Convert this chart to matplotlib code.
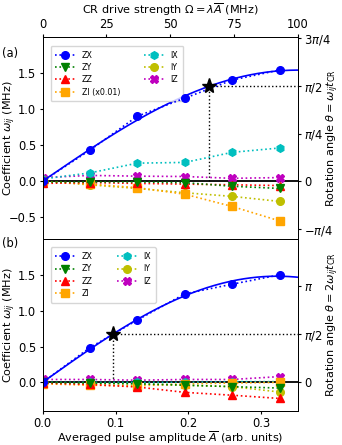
import numpy as np
import matplotlib
matplotlib.use("Agg")
import matplotlib.pyplot as plt

# averaged pulse amplitude (arb. units)
amp = [0.0, 0.065, 0.13, 0.195, 0.26, 0.325]

# panel (a) coefficients (MHz)
a_ZX = [0.0, 0.43, 0.90, 1.15, 1.40, 1.54]
a_ZY = [-0.01, -0.01, -0.01, -0.02, -0.07, -0.10]
a_ZZ = [-0.03, -0.02, -0.03, -0.04, -0.05, -0.06]
a_ZI = [0.0, -0.04, -0.09, -0.18, -0.35, -0.55]   # already x0.01
a_IX = [0.03, 0.115, 0.25, 0.26, 0.40, 0.46]
a_IY = [0.0, -0.05, -0.10, -0.16, -0.21, -0.28]
a_IZ = [0.05, 0.08, 0.07, 0.065, 0.04, 0.05]

# panel (b) coefficients (MHz)
b_ZX = [0.0, 0.485, 0.87, 1.235, 1.37, 1.50]
b_ZY = [0.0, -0.01, -0.02, -0.04, -0.06, -0.08]
b_ZZ = [-0.01, -0.03, -0.065, -0.14, -0.18, -0.225]
b_ZI = [-0.02, -0.04, -0.05, -0.02, -0.01, 0.0]
b_IX = [0.0, 0.0, 0.0, 0.0, 0.01, 0.01]
b_IY = [-0.01, -0.02, -0.02, -0.04, -0.06, -0.135]
b_IZ = [0.04, 0.04, 0.03, 0.04, 0.04, 0.08]

# pi/2 points (amplitude, coefficient)
star_a = (0.228, 1.32)
star_b = (0.097, 0.672)

names_a = ["ZX", "ZY", "ZZ", "ZI (x0.01)", "IX", "IY", "IZ"]
names_b = ["ZX", "ZY", "ZZ", "ZI", "IX", "IY", "IZ"]
colors = ["b", "g", "r", "orange", "c", "y", "m"]
markers = ["o", "v", "^", "s", "h", "o", "X"]

xmax = 0.35
lam = 100 / xmax

plt.rcParams["font.size"] = 8.3
plt.rcParams["axes.labelsize"] = 8.1
plt.rcParams["xtick.major.size"] = 2.5
plt.rcParams["ytick.major.size"] = 2.5
plt.rcParams["xtick.major.pad"] = 1.5
plt.rcParams["ytick.major.pad"] = 2
plt.rcParams["axes.linewidth"] = 0.7

fig = plt.figure(figsize=(3.42, 4.45), dpi=100)
ax_a = fig.add_axes([0.1243, 0.4629, 0.747, 0.4546])
ax_b = fig.add_axes([0.1243, 0.0764, 0.747, 0.3865])


def sine_fit(x, y):
    # least squares a*sin(b*x), scan over b
    x = np.asarray(x)
    y = np.asarray(y)
    best = None
    for b in np.linspace(1, 8, 701):
        s = np.sin(b * x)
        a = np.dot(s, y) / np.dot(s, s)
        err = np.sum((a * s - y) ** 2)
        if best is None or err < best[0]:
            best = (err, a, b)
    return best[1], best[2]


def draw(ax, series, names, star, ylim, k, rticks, rlabels, rlabel, top_frac):
    xf = np.linspace(0, xmax, 200)
    fa, fb = sine_fit(amp, series[0])
    ax.plot(xf, fa * np.sin(fb * xf), "-", color="b", lw=1.2, zorder=5)
    for i in range(len(series) - 1, -1, -1):
        ax.plot(amp, series[i], ":", color=colors[i], marker=markers[i],
                ms=5.5, lw=1.2, label=names[i], zorder=4 if i else 6)
    ax.axhline(0, color="k", lw=1.3, zorder=3)
    ax.plot([star[0], star[0]], [0, star[1]], "k:", lw=1)
    ax.plot([star[0], xmax], [star[1], star[1]], "k:", lw=1)
    ax.plot(star[0], star[1], "k*", ms=11, zorder=8)
    ax.set_xlim(0, xmax)
    ax.set_ylim(*ylim)
    ax.set_ylabel(r"Coefficient $\omega_{ij}$ (MHz)")
    ax.yaxis.set_label_coords(-0.097, 0.5)
    h, l = ax.get_legend_handles_labels()
    h, l = h[::-1], l[::-1]
    ax.legend(h, l, loc="upper left", ncol=2, fontsize=5.7, handlelength=2.5,
              borderpad=0.6, labelspacing=0.42, columnspacing=3.1,
              handletextpad=0.8, borderaxespad=0,
              bbox_to_anchor=(0.032, top_frac))
    r = ax.twinx()
    r.set_ylim(ylim[0] * k, ylim[1] * k)
    r.set_yticks(rticks)
    r.set_yticklabels(rlabels)
    r.set_ylabel(rlabel)
    r.yaxis.set_label_coords(1.105, 0.5)
    return r


series_a = [a_ZX, a_ZY, a_ZZ, a_ZI, a_IX, a_IY, a_IZ]
series_b = [b_ZX, b_ZY, b_ZZ, b_ZI, b_IX, b_IY, b_IZ]

ka = (np.pi / 2) / star_a[1]
draw(ax_a, series_a, names_a, star_a, (-0.8, 2.0), ka,
     [-np.pi / 4, 0, np.pi / 4, np.pi / 2, 3 * np.pi / 4],
     [r"$-\pi/4$", "0", r"$\pi/4$", r"$\pi/2$", r"$3\pi/4$"],
     r"Rotation angle $\theta = \omega_{ij}t_{\rm CR}$", 0.955)
ax_a.set_yticks([-0.5, 0.0, 0.5, 1.0, 1.5])
ax_a.set_xticks(np.arange(1, 5) * xmax / 5)
ax_a.set_xticklabels([])
top = ax_a.twiny()
top.set_xlim(0, xmax * lam)
top.set_xticks([0, 25, 50, 75, 100])
top.set_xlabel(r"CR drive strength $\Omega = \lambda\overline{A}$ (MHz)")
top.xaxis.set_label_coords(0.5, 1.114)

kb = (np.pi / 2) / (2 * star_b[1])
draw(ax_b, series_b, names_b, star_b, (-0.4, 2.0), 2 * kb,
     [0, np.pi / 2, np.pi],
     ["0", r"$\pi/2$", r"$\pi$"],
     r"Rotation angle $\theta = 2\omega_{ij}t_{\rm CR}$", 0.952)
ax_b.set_yticks([0.0, 0.5, 1.0, 1.5])
ax_b.set_xticks([0.0, 0.1, 0.2, 0.3])
ax_b.set_xlabel(r"Averaged pulse amplitude $\overline{A}$ (arb. units)")
ax_b.xaxis.set_label_coords(0.5, -0.106)

fig.text(0.005, 1 - 53 / 445, "(a)", va="center")
fig.text(0.005, 1 - 243 / 445, "(b)", va="center")

fig.savefig("out.png", dpi=100)
